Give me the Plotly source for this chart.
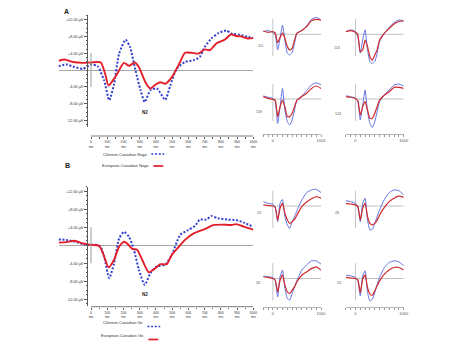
import plotly.graph_objects as go

W, H = 474, 351

# ---------------- data: main panel A (Nogo) ----------------
a_red_t = [-200, -163, -112, -50, 0, 60, 87, 108, 152, 203, 234, 270, 295, 335, 366, 396,
           427, 457, 498, 549, 579, 620, 661, 701, 732, 772, 823, 864, 894, 925, 965, 1000]
a_red_v = [2.2, 2.5, 1.9, 1.7, 1.8, 1.8, -0.9, -3.7, -1.5, 1.7, 1.0, 1.8, 0.7, -2.9, -4.4, -3.5,
           -2.9, -3.3, -1.7, 1.9, 4.1, 4.1, 3.9, 4.9, 4.7, 6.3, 7.2, 8.5, 8.1, 8.0, 7.5, 7.6]
a_blue_t = [-200, -152, -102, -50, 0, 40, 81, 112, 142, 173, 213, 240, 274, 305, 331, 366,
            406, 457, 488, 528, 579, 630, 670, 701, 741, 782, 833, 864, 915, 965, 1000]
a_blue_v = [0.9, 1.3, 0.7, 0.3, 1.3, 0.9, -2.5, -7.2, -3.3, 3.9, 7.2, 5.5, -0.1, -4.8, -7.6, -4.8,
            -4.4, -7.1, -3.7, 0.3, 1.9, 2.3, 3.1, 5.5, 7.5, 8.7, 9.4, 8.7, 8.4, 7.9, 7.6]

# ---------------- data: main panel B (Go) ----------------
b_blue_t = [-200, -152, -102, -30, 30, 60, 81, 112, 142, 173, 203, 234, 264, 295, 331, 366,
            406, 457, 498, 549, 599, 640, 670, 711, 741, 782, 843, 894, 945, 1000]
b_blue_v = [1.3, 1.2, 0.8, 0.1, 0.1, -0.4, -2.5, -7.3, -4.0, 1.5, 3.0, 1.9, -1.0, -5.4, -8.8, -6.2,
            -4.7, -4.3, -2.1, 2.3, 3.4, 4.3, 5.7, 5.7, 6.5, 6.0, 5.7, 5.6, 5.0, 4.1]
b_red_t = [-200, -152, -102, -50, 0, 50, 81, 108, 142, 173, 203, 223, 254, 284, 315, 356,
           396, 427, 467, 498, 539, 579, 630, 701, 752, 803, 864, 894, 945, 1000]
b_red_v = [0.6, 0.7, 1.0, 0.4, 0.1, -0.1, -2.5, -4.9, -3.2, -0.3, 0.8, 0.4, -0.8, -1.0, -3.2, -6.0,
           -5.1, -4.2, -4.2, -2.1, -0.4, 1.2, 2.6, 3.6, 4.5, 4.6, 4.5, 4.7, 4.1, 3.5]

# ---------------- data: small electrode panels ----------------
small_t = [-200, -100, 0, 50, 100, 150, 200, 250, 300, 350, 400, 450, 500, 600, 700, 800, 900, 1000]

a111_red = [1.5, 0.9, 1.2, 0.5, -3.8, -1.4, 0.5, -1.8, -5.6, -7.1, -6.4, -2.6, 0.5, 1.7, 3.5, 6.2, 6.8, 6.5]
a111_blue = [1.2, 1.7, 0.9, -0.3, -7.1, -1.8, 4.2, -2.6, -8.6, -9.4, -8.3, -4.1, 0.5, 1.7, 3.8, 6.8, 7.7, 6.5]
a113_red = [1.2, 1.7, 0.9, -0.3, -7.9, -7.1, -2.6, -5.6, -10.2, -11.7, -9.4, -7.1, -2.6, 0.5, 2.7, 4.7, 5.8, 6.1]
a113_blue = [1.2, 2.0, 1.2, -1.1, -8.6, -2.6, 2.0, -7.1, -12.4, -13.2, -12.4, -8.6, -3.3, 0.5, 3.2, 5.3, 6.5, 6.2]
a118_red = [1.1, 0.3, -0.2, -0.5, -8.0, -3.5, -0.5, -3.5, -8.0, -8.0, -6.5, -3.5, -0.5, 1.1, 2.6, 4.8, 5.9, 4.8]
a118_blue = [1.4, 0.8, 0.3, -1.2, -11.1, -3.5, 4.8, -5.0, -10.3, -11.8, -9.5, -5.0, -0.5, 1.4, 3.8, 6.4, 7.4, 6.4]
a124_red = [1.1, 0.8, 0.2, -0.8, -7.3, -3.5, -1.2, -5.0, -8.8, -8.8, -6.5, -3.5, -0.5, 1.8, 3.3, 5.3, 5.3, 4.8]
a124_blue = [1.4, 1.1, 0.3, -1.2, -9.5, -2.7, 4.1, -5.8, -11.1, -12.9, -10.3, -5.8, -1.2, 1.8, 4.1, 6.4, 6.8, 5.9]

b24a_red = [0.5, 0.2, 0.0, -0.6, -6.4, -1.1, 1.2, -3.3, -6.4, -7.9, -7.1, -6.1, -4.1, -0.3, 1.8, 3.3, 4.2, 3.6]
b24a_blue = [2.0, 1.2, 0.8, -0.6, -7.1, 1.2, 3.0, -4.8, -8.6, -10.2, -7.1, -4.8, -2.1, 2.7, 6.1, 7.3, 7.6, 6.1]
b26a_red = [1.2, 0.9, 0.5, -0.3, -6.4, -1.1, 1.2, -4.8, -7.9, -8.6, -7.9, -6.4, -4.1, -0.6, 2.0, 3.5, 4.5, 3.9]
b26a_blue = [2.4, 2.0, 1.2, -0.3, -7.1, 1.2, 3.5, -6.4, -10.9, -10.6, -7.9, -4.8, -1.8, 3.0, 6.1, 7.3, 7.0, 5.0]
b26b_red = [0.8, 0.5, 0.0, -0.8, -6.1, -0.8, 1.5, -3.0, -6.1, -6.8, -5.3, -3.8, -1.5, 1.5, 3.0, 4.5, 5.3, 3.8]
b26b_blue = [1.1, 0.8, 0.5, -0.8, -8.3, 0.8, 3.8, -4.5, -9.1, -9.8, -6.8, -3.8, -0.8, 3.8, 6.1, 8.0, 8.0, 6.5]
b24b_red = [0.5, 0.2, 0.0, -0.6, -6.4, -0.3, 1.5, -4.1, -7.1, -7.6, -5.6, -3.3, -1.1, 2.0, 3.9, 5.0, 5.0, 3.9]
b24b_blue = [1.5, 1.2, 0.5, -1.1, -7.9, 1.2, 3.5, -6.4, -10.2, -9.4, -6.4, -2.6, 0.5, 5.0, 7.3, 8.0, 7.6, 5.8]

# ---------------- tick labels / text ----------------
x_ticks = [0, 100, 200, 300, 400, 500, 600, 700, 800, 900, 1000]
x_ticktext = [f"{v}<br>ms" for v in x_ticks]
y_ticks = [12, 8, 4, -4, -8, -12]
y_ticktext = ["+12.00 µV", "+8.00 µV", "+4.00 µV", "-4.00 µV", "-8.00 µV", "-12.00 µV"]
small_ticks = [-200, -100, 0, 100, 200, 300, 400, 500, 600, 700, 800, 900, 1000]
small_ticktext = ["" if v not in (0, 1000) else str(v) for v in small_ticks]

legend_a = ["Chinese-Canadian Nogo", "European-Canadian Nogo"]
legend_b = ["Chinese-Canadian Go", "European-Canadian Go"]

BLUE = "#2f3fd0"
RED = "#e3202a"
SBLUE = "#6474e2"
SRED = "#cf2a2e"
AXC = "#5a5a5a"
ZC = "#a8a8a8"
FONT = "Liberation Sans, Arial, sans-serif"
DOTS = "2px,1.7px"


def px(x):
    return x / W


def py(y):
    return 1 - y / H


fig = go.Figure()
layout = dict(
    width=W, height=H, margin=dict(l=0, r=0, t=0, b=0),
    paper_bgcolor="white", plot_bgcolor="white", showlegend=False,
    font=dict(family=FONT, color="#333"),
)
shapes = []
annotations = []

# ---------------- main panels ----------------
main_panels = [
    ("x", "y", a_blue_t, a_blue_v, a_red_t, a_red_v, 70.0, 4.2, 136.0),
    ("x2", "y2", b_blue_t, b_blue_v, b_red_t, b_red_v, 245.3, 4.5, 306.7),
]
YLO, YHI = -13.5, 13.0
for i, (xa, ya, bt, bv, rt, rv, zpx, scale, axpx) in enumerate(main_panels):
    fig.add_trace(go.Scatter(x=bt, y=bv, mode="lines", xaxis=xa, yaxis=ya, hoverinfo="skip",
                             line=dict(color=BLUE, width=2.0, dash=DOTS, shape="spline", smoothing=0.6)))
    fig.add_trace(go.Scatter(x=rt, y=rv, mode="lines", xaxis=xa, yaxis=ya, hoverinfo="skip",
                             line=dict(color=RED, width=1.9, shape="spline", smoothing=0.6)))
    top = zpx - YHI * scale
    bot = zpx - YLO * scale
    xkey = "xaxis" if xa == "x" else "xaxis" + xa[1:]
    ykey = "yaxis" if ya == "y" else "yaxis" + ya[1:]
    layout[xkey] = dict(
        domain=[px(59.2), px(256.0)], range=[-200, 1000], anchor="free", position=py(axpx),
        showline=False, showgrid=False, zeroline=False,
        tickmode="array", tickvals=x_ticks, ticktext=x_ticktext,
        ticks="outside", ticklen=2, tickwidth=0.8, tickcolor=AXC,
        tickfont=dict(size=3.5, color="#333", family=FONT),
        minor=dict(tickmode="array", tickvals=[v + 50 for v in x_ticks[:-1]],
                   ticks="outside", ticklen=1.5, tickcolor=AXC, tickwidth=0.6),
    )
    layout[ykey] = dict(
        domain=[py(bot), py(top)], range=[YLO, YHI], anchor="free", position=px(88.0),
        showline=True, linecolor=AXC, linewidth=0.8, showgrid=False,
        zeroline=True, zerolinecolor=ZC, zerolinewidth=1,
        tickmode="array", tickvals=y_ticks, ticktext=y_ticktext,
        ticks="outside", ticklen=3, tickwidth=0.8, tickcolor=AXC,
        tickfont=dict(size=3.8, color="#333", family=FONT),
        minor=dict(dtick=1, tick0=0, ticks="outside", ticklen=1.5, tickcolor=AXC, tickwidth=0.6),
    )
    shapes.append(dict(type="line", xref=xa, yref="paper", x0=x_ticks[0], x1=x_ticks[-1],
                       y0=py(axpx), y1=py(axpx), line=dict(color=AXC, width=0.8)))
    shapes.append(dict(type="line", xref=xa, yref=ya, x0=0, x1=0, y0=-4, y1=4,
                       line=dict(color="#9a9a9a", width=1)))
    annotations.append(dict(text="<b>N2</b>", xref=xa, yref=ya, x=330, y=-10 if i == 0 else -11,
                            showarrow=False, font=dict(size=4.5, color="#222", family=FONT)))

annotations.append(dict(text="<b>A</b>", xref="paper", yref="paper", x=px(64), y=py(7),
                        showarrow=False, borderpad=0, font=dict(size=7, color="#222", family=FONT)))
annotations.append(dict(text="<b>B</b>", xref="paper", yref="paper", x=px(65), y=py(166),
                        showarrow=False, borderpad=0, font=dict(size=7, color="#222", family=FONT)))

leg_rows = [
    (legend_a[0], 152, 154, BLUE, DOTS, 153, 166),
    (legend_a[1], 153, 166, RED, "solid", 155, 165),
    (legend_b[0], 147, 326.5, BLUE, DOTS, 149, 162),
    (legend_b[1], 148, 339.5, RED, "solid", 150, 160),
]
for txt, xr, yy, col, dash, lx0, lx1 in leg_rows:
    annotations.append(dict(text=txt, xref="paper", yref="paper", x=px(xr), y=py(yy),
                            xanchor="right", showarrow=False,
                            font=dict(size=4.0, color="#333", family=FONT)))
    shapes.append(dict(type="line", xref="paper", yref="paper", x0=px(lx0), x1=px(lx1),
                       y0=py(yy), y1=py(yy), line=dict(color=col, width=1.7, dash=dash)))

# ---------------- small panels ----------------
SLO, SHI = -14.0, 9.0
SSCALE = 2.2
small_panels = [
    (a111_red, a111_blue, 266.0, 324.5, 34.3, "111", 263, 42, None),
    (a113_red, a113_blue, 349.5, 408.0, 34.3, "113", 346, 44, None),
    (a118_red, a118_blue, 266.0, 324.5, 99.0, "118", 262, 108, 134.0),
    (a124_red, a124_blue, 349.5, 408.0, 99.0, "124", 347, 110, 134.0),
    (b24a_red, b24a_blue, 266.0, 324.5, 206.0, "24", 262, 213, None),
    (b26a_red, b26a_blue, 349.5, 408.0, 206.0, "26", 345, 213, None),
    (b26b_red, b26b_blue, 266.0, 324.5, 278.5, "26", 261, 287, 307.0),
    (b24b_red, b24b_blue, 349.5, 408.0, 278.5, "24", 347, 287, 307.0),
]
for k, (rv, bv, xl, xr, base, lab, lx, ly, axpx) in enumerate(small_panels):
    n = k + 3
    xa, ya = f"x{n}", f"y{n}"
    fig.add_trace(go.Scatter(x=small_t, y=bv, mode="lines", xaxis=xa, yaxis=ya, hoverinfo="skip",
                             line=dict(color=SBLUE, width=1.0, shape="spline", smoothing=0.5)))
    fig.add_trace(go.Scatter(x=small_t, y=rv, mode="lines", xaxis=xa, yaxis=ya, hoverinfo="skip",
                             line=dict(color=SRED, width=1.2, shape="spline", smoothing=0.5)))
    top = base - SHI * SSCALE
    bot = base - SLO * SSCALE
    xdict = dict(domain=[px(xl), px(xr)], range=[-200, 1000], showgrid=False, zeroline=False)
    if axpx is None:
        xdict.update(visible=False, anchor=ya)
    else:
        xdict.update(anchor="free", position=py(axpx), showline=True, linecolor="#b5b5b5",
                     linewidth=0.8, tickmode="array", tickvals=small_ticks, ticktext=small_ticktext,
                     ticks="outside", ticklen=2, tickwidth=0.6, tickcolor="#999",
                     tickfont=dict(size=4, color="#555", family=FONT))
    layout[f"xaxis{n}"] = xdict
    layout[f"yaxis{n}"] = dict(domain=[py(bot), py(top)], range=[SLO, SHI], visible=False,
                               anchor=xa, showgrid=False, zeroline=False)
    shapes.append(dict(type="line", xref=xa, yref=ya, x0=0, x1=1000, y0=0, y1=0,
                       line=dict(color="#b0b0b0", width=0.8), layer="below"))
    shapes.append(dict(type="line", xref=xa, yref=ya, x0=0, x1=0, y0=-10, y1=7,
                       line=dict(color="#b8b8b8", width=0.8), layer="below"))
    annotations.append(dict(text=lab, xref="paper", yref="paper", x=px(lx), y=py(ly),
                            showarrow=False, font=dict(size=3.6, color="#555", family=FONT)))

layout["shapes"] = shapes
layout["annotations"] = annotations
fig.update_layout(**layout)
fig.write_html("out.html")
